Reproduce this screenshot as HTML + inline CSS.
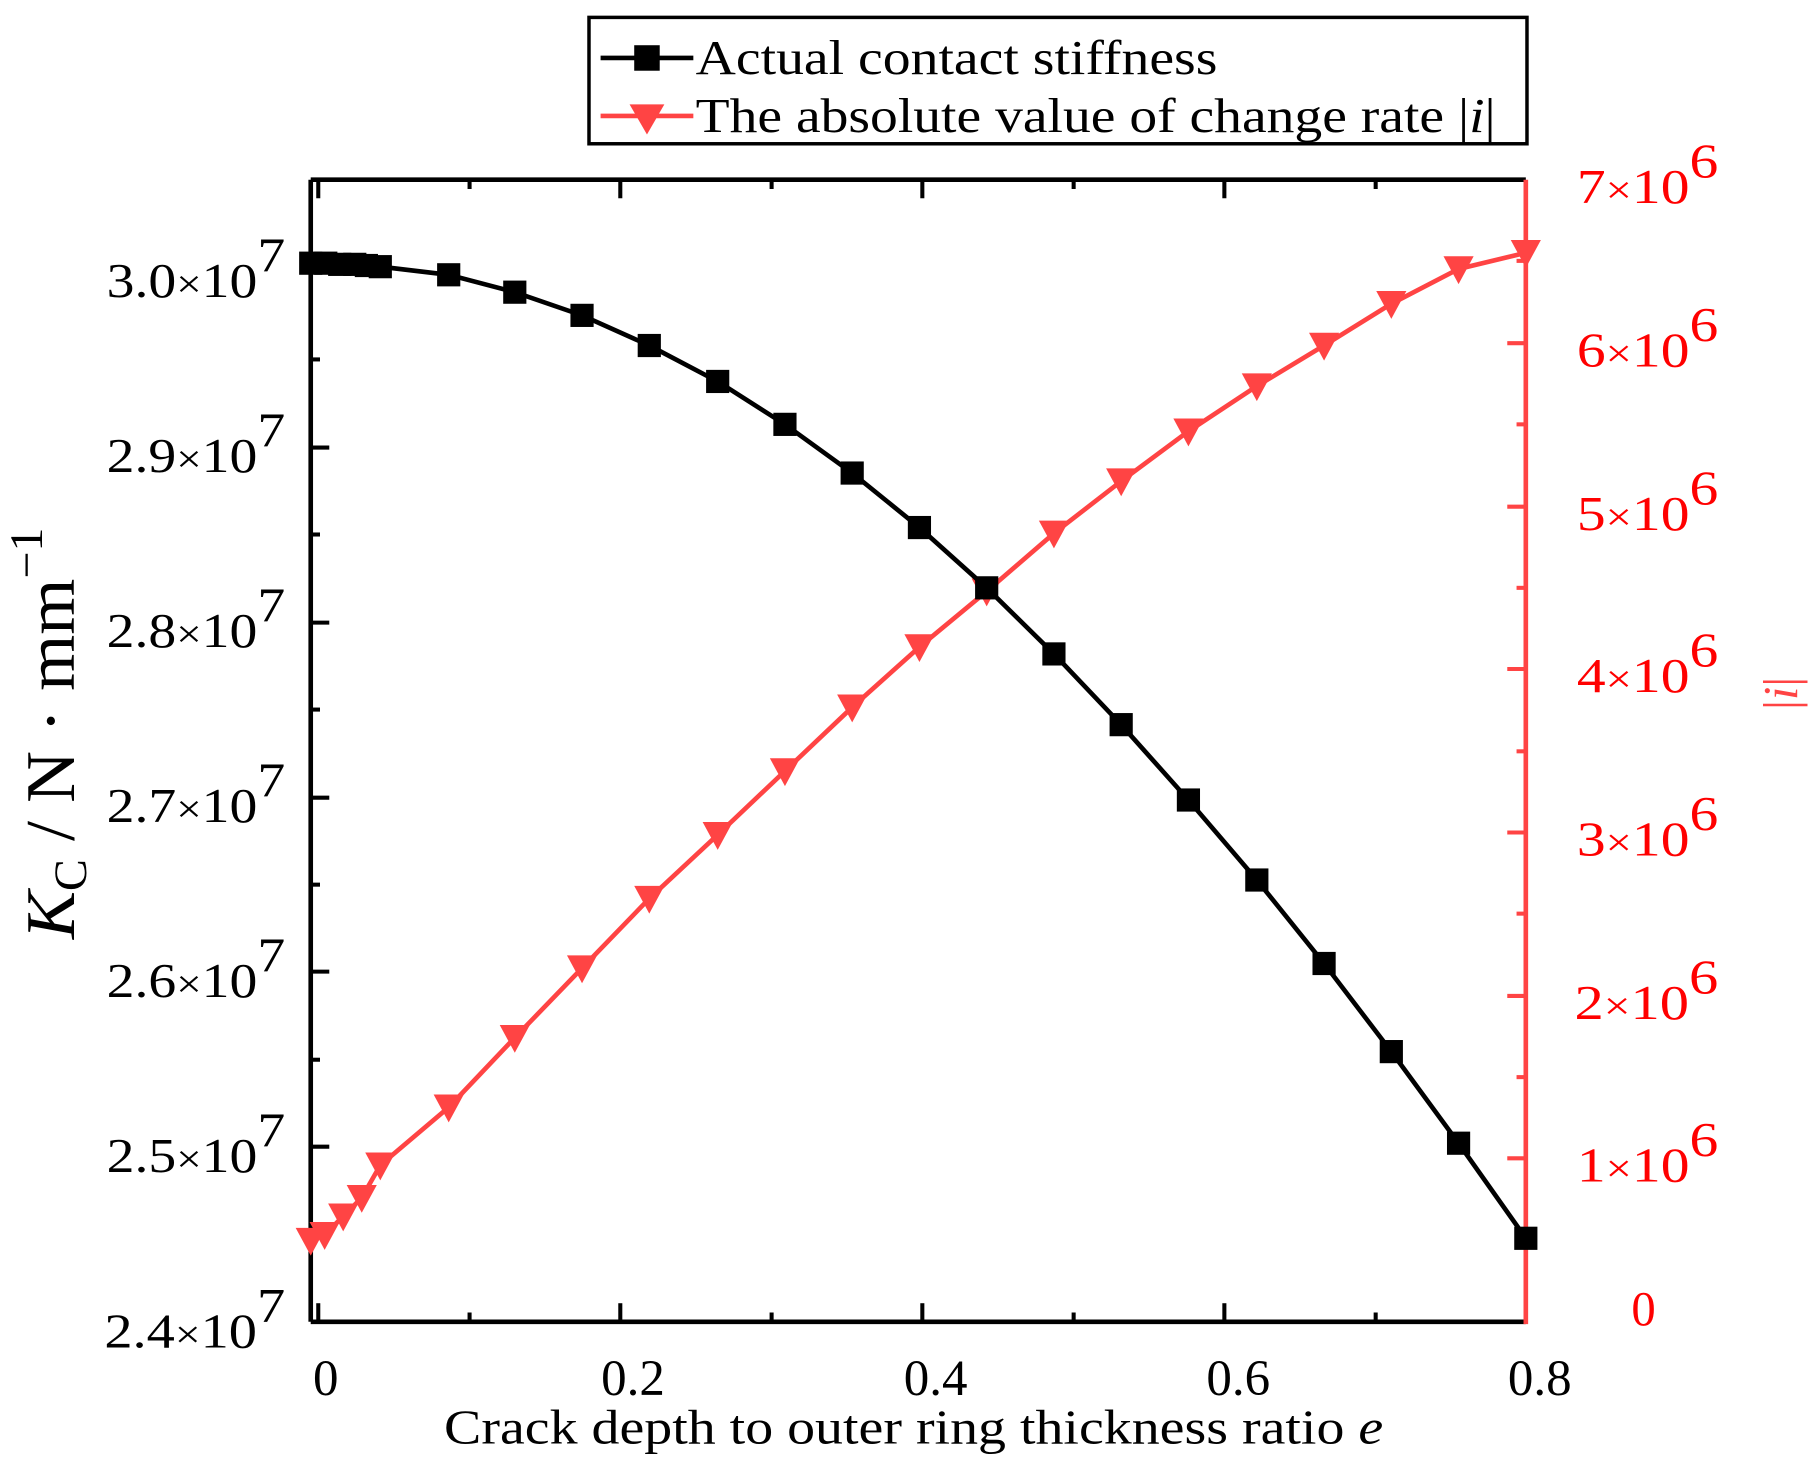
<!DOCTYPE html>
<html><head><meta charset="utf-8"><style>
html,body{margin:0;padding:0;background:#fff;}
svg{display:block;}
text{font-family:"Liberation Serif","Times New Roman",serif;}
</style></head><body>
<svg width="1818" height="1466" viewBox="0 0 1568 1264.4" preserveAspectRatio="none" xmlns="http://www.w3.org/2000/svg">
<rect width="1568" height="1265" fill="#fff"/>
<!-- legend -->
<rect x="508" y="15" width="809" height="109" fill="#fff" stroke="#000" stroke-width="3"/>
<line x1="518" y1="50" x2="598" y2="50" stroke="#000" stroke-width="4"/>
<rect x="547" y="39" width="22" height="22" fill="#000"/>
<text x="600" y="64" font-size="42" textLength="450" lengthAdjust="spacingAndGlyphs">Actual contact stiffness</text>
<line x1="518" y1="100" x2="598" y2="100" stroke="#f44" stroke-width="4"/>
<polygon points="543,90 573,90 558,116" fill="#f44"/>
<text x="600" y="114" font-size="42" textLength="690" lengthAdjust="spacingAndGlyphs">The absolute value of change rate |<tspan font-style="italic">i</tspan>|</text>

<!-- axes -->
<g stroke="#000" stroke-width="4" fill="none">
<line x1="268" y1="155" x2="1316" y2="155"/>
<line x1="268" y1="155" x2="268" y2="1140"/>
<line x1="268" y1="1140" x2="1316" y2="1140"/>
</g>
<line x1="1316" y1="155" x2="1316" y2="1142" stroke="#f44" stroke-width="4"/>
<g stroke="#000" stroke-width="3.5">
<line x1="274.5" y1="1140" x2="274.5" y2="1124"/><line x1="405" y1="1140" x2="405" y2="1132"/>
<line x1="535" y1="1140" x2="535" y2="1124"/><line x1="665.5" y1="1140" x2="665.5" y2="1132"/>
<line x1="795.5" y1="1140" x2="795.5" y2="1124"/><line x1="926" y1="1140" x2="926" y2="1132"/>
<line x1="1056" y1="1140" x2="1056" y2="1124"/><line x1="1186.5" y1="1140" x2="1186.5" y2="1132"/>
<line x1="274.5" y1="155" x2="274.5" y2="171"/><line x1="405" y1="155" x2="405" y2="163"/>
<line x1="535" y1="155" x2="535" y2="171"/><line x1="665.5" y1="155" x2="665.5" y2="163"/>
<line x1="795.5" y1="155" x2="795.5" y2="171"/><line x1="926" y1="155" x2="926" y2="163"/>
<line x1="1056" y1="155" x2="1056" y2="171"/><line x1="1186.5" y1="155" x2="1186.5" y2="163"/>
<line x1="268" y1="235" x2="284" y2="235"/><line x1="268" y1="310" x2="276" y2="310"/>
<line x1="268" y1="386" x2="284" y2="386"/><line x1="268" y1="461" x2="276" y2="461"/>
<line x1="268" y1="537" x2="284" y2="537"/><line x1="268" y1="612" x2="276" y2="612"/>
<line x1="268" y1="688" x2="284" y2="688"/><line x1="268" y1="763" x2="276" y2="763"/>
<line x1="268" y1="838" x2="284" y2="838"/><line x1="268" y1="914" x2="276" y2="914"/>
<line x1="268" y1="989" x2="284" y2="989"/><line x1="268" y1="1065" x2="276" y2="1065"/>
</g>
<g stroke="#f44" stroke-width="3.5">
<line x1="1316" y1="225" x2="1308" y2="225"/><line x1="1316" y1="296" x2="1300" y2="296"/>
<line x1="1316" y1="366" x2="1308" y2="366"/><line x1="1316" y1="437" x2="1300" y2="437"/>
<line x1="1316" y1="507" x2="1308" y2="507"/><line x1="1316" y1="577" x2="1300" y2="577"/>
<line x1="1316" y1="648" x2="1308" y2="648"/><line x1="1316" y1="718" x2="1300" y2="718"/>
<line x1="1316" y1="788" x2="1308" y2="788"/><line x1="1316" y1="859" x2="1300" y2="859"/>
<line x1="1316" y1="929" x2="1308" y2="929"/><line x1="1316" y1="999" x2="1300" y2="999"/>
<line x1="1316" y1="1070" x2="1308" y2="1070"/>
</g>
<!-- x labels -->
<g font-size="44" text-anchor="middle">
<text x="281" y="1203">0</text><text x="546" y="1203">0.2</text><text x="807" y="1203">0.4</text>
<text x="1068" y="1203">0.6</text><text x="1328" y="1203">0.8</text>
</g>
<text x="383" y="1245" font-size="42" textLength="810" lengthAdjust="spacingAndGlyphs">Crack depth to outer ring thickness ratio <tspan font-style="italic">e</tspan></text>
<!-- left labels -->
<g font-size="42">
<text x="92" y="256" textLength="154" lengthAdjust="spacingAndGlyphs">3.0<tspan font-size="34">×</tspan>10<tspan dy="-22">7</tspan></text>
<text x="92" y="407" textLength="154" lengthAdjust="spacingAndGlyphs">2.9<tspan font-size="34">×</tspan>10<tspan dy="-22">7</tspan></text>
<text x="92" y="558" textLength="154" lengthAdjust="spacingAndGlyphs">2.8<tspan font-size="34">×</tspan>10<tspan dy="-22">7</tspan></text>
<text x="92" y="709" textLength="154" lengthAdjust="spacingAndGlyphs">2.7<tspan font-size="34">×</tspan>10<tspan dy="-22">7</tspan></text>
<text x="92" y="860" textLength="154" lengthAdjust="spacingAndGlyphs">2.6<tspan font-size="34">×</tspan>10<tspan dy="-22">7</tspan></text>
<text x="92" y="1011" textLength="154" lengthAdjust="spacingAndGlyphs">2.5<tspan font-size="34">×</tspan>10<tspan dy="-22">7</tspan></text>
<text x="90" y="1162" textLength="156" lengthAdjust="spacingAndGlyphs">2.4<tspan font-size="34">×</tspan>10<tspan dy="-22">7</tspan></text>
</g>
<!-- right labels -->
<g font-size="42" fill="#f00">
<text x="1360" y="175" textLength="122" lengthAdjust="spacingAndGlyphs">7<tspan font-size="34">×</tspan>10<tspan dy="-22">6</tspan></text>
<text x="1360" y="316" textLength="122" lengthAdjust="spacingAndGlyphs">6<tspan font-size="34">×</tspan>10<tspan dy="-22">6</tspan></text>
<text x="1360" y="457" textLength="122" lengthAdjust="spacingAndGlyphs">5<tspan font-size="34">×</tspan>10<tspan dy="-22">6</tspan></text>
<text x="1360" y="597" textLength="122" lengthAdjust="spacingAndGlyphs">4<tspan font-size="34">×</tspan>10<tspan dy="-22">6</tspan></text>
<text x="1360" y="738" textLength="122" lengthAdjust="spacingAndGlyphs">3<tspan font-size="34">×</tspan>10<tspan dy="-22">6</tspan></text>
<text x="1358" y="879" textLength="124" lengthAdjust="spacingAndGlyphs">2<tspan font-size="34">×</tspan>10<tspan dy="-22">6</tspan></text>
<text x="1360" y="1019" textLength="122" lengthAdjust="spacingAndGlyphs">1<tspan font-size="34">×</tspan>10<tspan dy="-22">6</tspan></text>
<text x="1407" y="1143">0</text>
</g>
<text transform="translate(1550,598) rotate(-90)" font-size="42" fill="#f44" text-anchor="middle">|<tspan font-style="italic">i</tspan>|</text>
<!-- left axis title -->
<text transform="translate(64,810) rotate(-90)" font-size="60" textLength="355" lengthAdjust="spacingAndGlyphs"><tspan font-style="italic">K</tspan><tspan font-size="40" dy="10">C</tspan><tspan dy="-10"> / N · mm</tspan><tspan font-size="40" dy="-28">−1</tspan></text>

<!-- red series -->
<polyline fill="none" stroke="#f44" stroke-width="4" points="268,1070 280,1065 296,1049 312,1033 328,1005 387,955 444,895 502,835 560,775 619,720 677,665 735,610 793,558 851,510 909,460 967,415 1025,372 1084,333 1142,298 1200,262 1258,232 1316,218"/>
<g fill="#f44">
<polygon points="255,1059 281,1059 268,1083"/><polygon points="267,1054 293,1054 280,1078"/>
<polygon points="283,1038 309,1038 296,1062"/><polygon points="299,1022 325,1022 312,1046"/>
<polygon points="315,994 341,994 328,1018"/><polygon points="374,944 400,944 387,968"/>
<polygon points="431,884 457,884 444,908"/><polygon points="489,824 515,824 502,848"/>
<polygon points="547,764 573,764 560,788"/><polygon points="606,709 632,709 619,733"/>
<polygon points="664,654 690,654 677,678"/><polygon points="722,599 748,599 735,623"/>
<polygon points="780,547 806,547 793,571"/><polygon points="838,499 864,499 851,523"/>
<polygon points="896,449 922,449 909,473"/><polygon points="954,404 980,404 967,428"/>
<polygon points="1012,361 1038,361 1025,385"/><polygon points="1071,322 1097,322 1084,346"/>
<polygon points="1129,287 1155,287 1142,311"/><polygon points="1187,251 1213,251 1200,275"/>
<polygon points="1245,221 1271,221 1258,245"/><polygon points="1303,207 1329,207 1316,231"/>
</g>
<!-- black series -->
<polyline fill="none" stroke="#000" stroke-width="4" points="268,227 281,227 293,228 306,228 316,229 328,230 387,237 444,252 502,272 560,298 619,329 677,366 735,408 793,455 851,507 909,564 967,625 1025,690 1084,759 1142,831 1200,907 1258,986 1316,1068"/>
<g fill="#000">
<rect x="258" y="217" width="20" height="20"/><rect x="271" y="217" width="20" height="20"/>
<rect x="283" y="218" width="20" height="20"/><rect x="296" y="218" width="20" height="20"/>
<rect x="306" y="219" width="20" height="20"/><rect x="318" y="220" width="20" height="20"/>
<rect x="377" y="227" width="20" height="20"/><rect x="434" y="242" width="20" height="20"/>
<rect x="492" y="262" width="20" height="20"/><rect x="550" y="288" width="20" height="20"/>
<rect x="609" y="319" width="20" height="20"/><rect x="667" y="356" width="20" height="20"/>
<rect x="725" y="398" width="20" height="20"/><rect x="783" y="445" width="20" height="20"/>
<rect x="841" y="497" width="20" height="20"/><rect x="899" y="554" width="20" height="20"/>
<rect x="957" y="615" width="20" height="20"/><rect x="1015" y="680" width="20" height="20"/>
<rect x="1074" y="749" width="20" height="20"/><rect x="1132" y="821" width="20" height="20"/>
<rect x="1190" y="897" width="20" height="20"/><rect x="1248" y="976" width="20" height="20"/>
<rect x="1306" y="1058" width="20" height="20"/>
</g>
</svg>
</body></html>
